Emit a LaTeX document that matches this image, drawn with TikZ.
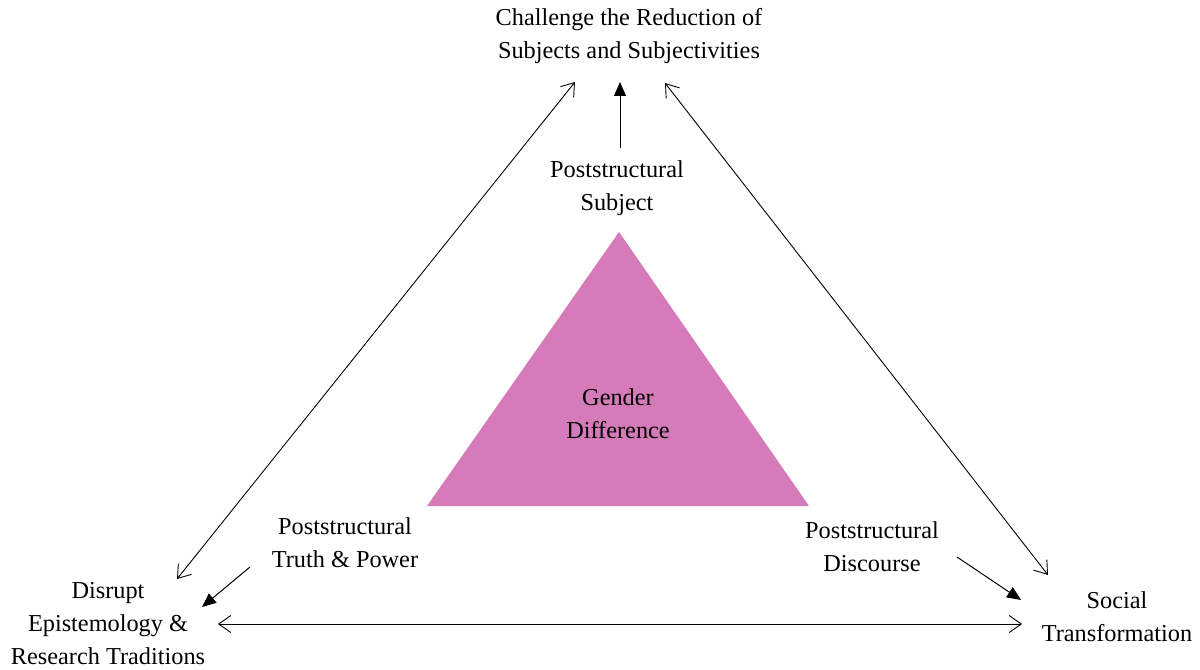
\documentclass[tikz,border=0pt]{standalone}
\usepackage{fontspec}
\setmainfont{Liberation Serif}
\usetikzlibrary{arrows.meta}
\definecolor{tri}{HTML}{D67BBA}
\tikzset{
  lbl/.style={align=center, inner sep=0pt, font=\fontsize{24.3bp}{33bp}\selectfont},
  openarr/.style={draw=black, line width=0.9bp, {Straight Barb[length=12bp,width=17bp]}-{Straight Barb[length=12bp,width=17bp]}},
  solidarr/.style={draw=black, line width=1bp, -{Triangle[length=14bp,width=12bp]}},
}
\begin{document}
\begin{tikzpicture}[x=1bp,y=-1bp]
\useasboundingbox (0,0) rectangle (1200,670);
\fill[tri] (619,232) -- (809,506) -- (427,506) -- cycle;
\node[lbl] (gd) at (618,414) {Gender\\Difference};
\node[lbl] (top) at (629,36) {Challenge the Reduction of\\Subjects and Subjectivities};
\node[lbl] (ps) at (617,188) {Poststructural\\Subject};
\node[lbl] (ptp) at (345,543) {Poststructural\\Truth \& Power};
\node[lbl] (pd) at (872,547) {Poststructural\\Discourse};
\node[lbl] (dis) at (108,624) {Disrupt\\Epistemology \&\\Research Traditions};
\node[lbl] (st) at (1117,617) {Social\\Transformation};
% endpoints
\coordinate (tL) at (575,82);
\coordinate (tR) at (665,83);
\coordinate (tM) at (620,82);
\coordinate (sM) at (620,148);
\coordinate (bL) at (177,579);
\coordinate (bR) at (1048,575);
\coordinate (hL) at (218,624);
\coordinate (hR) at (1022,624);
\coordinate (aL) at (202,607);
\coordinate (aR) at (1021,600);
\coordinate (sL) at (250,567);
\coordinate (sR) at (957,557);
\draw[openarr] (bL) -- (tL);
\draw[openarr] (bR) -- (tR);
\draw[openarr] (hL) -- (hR);
\draw[solidarr] (sM) -- (tM);
\draw[solidarr] (sL) -- (aL);
\draw[solidarr] (sR) -- (aR);
\end{tikzpicture}
\end{document}
